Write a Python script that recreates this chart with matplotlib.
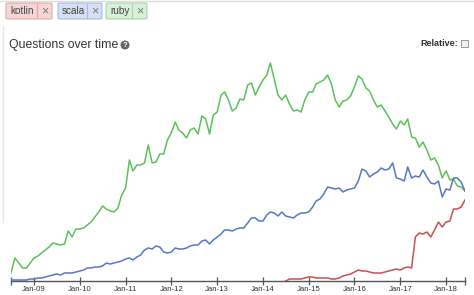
import numpy as np
import pandas as pd
import matplotlib
matplotlib.use("Agg")
import matplotlib.pyplot as plt
from matplotlib.patches import FancyBboxPatch, Ellipse, Rectangle
from matplotlib.lines import Line2D

# ---------------- data (monthly question counts, relative units) ----------------
months = pd.date_range("2008-07-01", periods=120, freq="MS")

ruby = [8, 23, 18, 13, 13, 18, 23, 25, 28, 31, 34, 38, 37, 36, 37, 50, 44, 52, 52, 53,
        56, 59, 64, 69, 75, 72, 70, 69, 73, 86, 93, 121, 110, 116, 116, 118, 136, 118, 119, 127,
        127, 141, 148, 159, 151, 148, 143, 151, 153, 147, 165, 162, 147, 166, 169, 186, 189, 181, 170, 173,
        182, 181, 196, 198, 186, 194, 201, 206, 218, 202, 186, 181, 186, 177, 170, 171, 169, 181, 189, 189,
        197, 199, 201, 206, 197, 181, 174, 180, 181, 185, 194, 205, 202, 193, 190, 181, 174, 176, 170, 164,
        157, 152, 160, 156, 162, 144, 143, 134, 139, 131, 121, 123, 116, 103, 110, 101, 102, 95, 94, 90]

scala = [1, 1, 1, 1, 1, 2, 2, 3, 3, 4, 5, 6, 7, 6, 8, 8, 8, 9, 10, 11,
         13, 13, 14, 14, 15, 18, 17, 18, 19, 20, 22, 23, 21, 24, 26, 31, 33, 32, 35, 34,
         29, 28, 29, 33, 32, 32, 33, 35, 36, 36, 40, 41, 37, 41, 44, 47, 51, 51, 50, 52,
         53, 53, 58, 63, 63, 60, 60, 66, 69, 68, 65, 69, 65, 64, 63, 66, 68, 68, 69, 74,
         80, 82, 87, 94, 93, 92, 93, 89, 91, 92, 93, 100, 112, 110, 104, 107, 109, 113, 111, 112,
         118, 103, 102, 100, 114, 103, 105, 104, 111, 104, 98, 97, 100, 84, 92, 91, 103, 103, 99, 90]

# kotlin series (visible from mid-2014 on; earlier months lie on the axis)
kotlin_months = pd.date_range("2014-07-01", periods=48, freq="MS")
kotlin = [0, 2, 2, 2, 2, 3, 4, 4, 3, 3, 3, 3, 2, 2, 3, 5, 6, 7, 9, 11, 10,
          10, 9, 8, 8, 8, 9, 10, 11, 12, 11, 13, 14, 13, 44, 48, 47, 49, 44, 51, 59,
          54, 59, 60, 72, 72, 74, 81]

tick_years = list(range(2009, 2019))
tick_labels = [f"Jan-{y % 100:02d}" for y in tick_years]

tags = ["kotlin", "scala", "ruby"]

# ---------------- figure ----------------
W, H = 474, 295
fig = plt.figure(figsize=(W / 100, H / 100), dpi=100)
fig.patch.set_facecolor("white")
FONT = ["Liberation Sans", "DejaVu Sans"]

def fx(x):
    return x / W

def fy(y):
    return 1 - y / H

# plot axes: x 11..465 px, y 55..281 px
ax = fig.add_axes([fx(11), fy(281), fx(465) - fx(11), fy(55) - fy(281)])
ax.set_facecolor("none")

c_ruby = "#5cc15c"
c_scala = "#5577c4"
c_kotlin = "#c9504f"
ax.plot(months, ruby, color=c_ruby, lw=1.1, solid_joinstyle="round", zorder=3)
ax.plot(months, scala, color=c_scala, lw=1.1, solid_joinstyle="round", zorder=3)
ax.plot(kotlin_months, kotlin, color=c_kotlin, lw=1.1, solid_joinstyle="round", zorder=4)

ax.set_xlim(months[0], months[-1])
ax.set_ylim(0, 226)
for s in ["top", "right", "left"]:
    ax.spines[s].set_visible(False)
ax.spines["bottom"].set_color("#555555")
ax.spines["bottom"].set_linewidth(1.0)
ax.set_yticks([])

tick_dates = [pd.Timestamp(f"{y}-01-01") for y in tick_years]
ax.set_xticks(tick_dates)
ax.set_xticklabels(tick_labels, fontsize=5.6, color="#333333", family=FONT)
ax.set_xticks([months[0], months[-1]], minor=True)
ax.tick_params(axis="x", which="both", direction="inout", length=6, width=0.9,
               color="#555555", pad=0.5)

# ---------------- header tags ----------------
tag_specs = [
    (6, 52, "#f4d6d6", "#e3a6a6", tags[0]),
    (58, 102, "#d6e0f4", "#a6b8e3", tags[1]),
    (106, 147, "#d8f0d8", "#a6d6a6", tags[2]),
]
for (x0, x1, fc, ec, name) in tag_specs:
    rect = FancyBboxPatch((fx(x0), fy(19)), fx(x1) - fx(x0), fy(3) - fy(19),
                          boxstyle="round,pad=0,rounding_size=0.004",
                          transform=fig.transFigure, facecolor=fc, edgecolor=ec, lw=0.8)
    fig.patches.append(rect)
    sep = x1 - 15
    fig.lines.append(Line2D([fx(sep), fx(sep)], [fy(4), fy(18)], transform=fig.transFigure,
                            color=ec, lw=0.8))
    fig.text(fx(x0 + 4), fy(11.5), name, fontsize=7.2, color="#444444", va="center",
             ha="left", family=FONT)
    fig.text(fx(sep + 7.5), fy(11.5), "\u00d7", fontsize=9, color="#777777", va="center",
             ha="center", family=FONT)

# light top border and left panel border
fig.lines.append(Line2D([0, 1], [fy(0.5), fy(0.5)], transform=fig.transFigure,
                        color="#dddddd", lw=1))
fig.lines.append(Line2D([fx(3), fx(3)], [fy(26), fy(222)], transform=fig.transFigure,
                        color="#e6e6e6", lw=1))

# title
fig.text(fx(9), fy(45), "Questions over time", fontsize=8.8, color="#333333",
         va="center", ha="left", family=FONT)
icon = Ellipse((fx(125), fy(45)), 9 / W, 9 / H, transform=fig.transFigure,
               facecolor="#666666", edgecolor="none")
fig.patches.append(icon)
fig.text(fx(125), fy(45.2), "?", fontsize=5.5, color="white", fontweight="bold",
         va="center", ha="center", family=FONT)

# relative checkbox
fig.text(fx(458), fy(43.5), "Relative:", fontsize=6.5, color="#333333", fontweight="bold",
         va="center", ha="right", family=FONT)
cb = Rectangle((fx(461), fy(47)), fx(468) - fx(461), fy(40) - fy(47), transform=fig.transFigure,
               facecolor="#f2f2f2", edgecolor="#999999", lw=0.7)
fig.patches.append(cb)

fig.savefig("out.png", dpi=100, facecolor="white")
